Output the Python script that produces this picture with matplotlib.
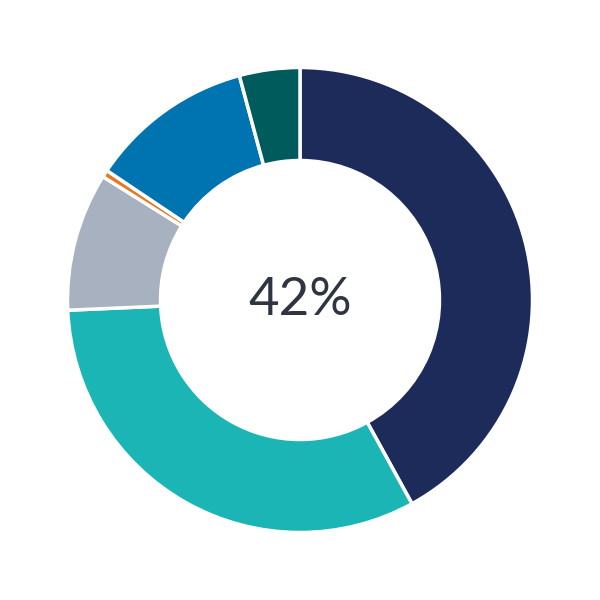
import matplotlib
matplotlib.use("Agg")
import matplotlib.pyplot as plt

# segment shares, clockwise from 12 o'clock
labels = ["Navy", "Teal", "Gray", "Orange", "Blue", "Dark green"]
values = [42.0, 32.3, 9.6, 0.5, 11.4, 4.2]
colors = ["#1c2b5a", "#1bb5b6", "#a8b1c0", "#e87722", "#0073b1", "#005b5c"]
center_label = "42%"

fig = plt.figure(figsize=(6, 6), dpi=100)
ax = fig.add_axes([0, 0, 1, 1])
ax.set_aspect("equal")

ax.pie(values, colors=colors, startangle=90, counterclock=False,
       radius=0.775,
       wedgeprops=dict(width=0.31, edgecolor="white", linewidth=2.5))

ax.text(0, 0.012, center_label, ha="center", va="center_baseline", fontsize=38,
        color="#2e3441", family=["Lato", "DejaVu Sans"])

ax.set_xlim(-1, 1)
ax.set_ylim(-1, 1)
ax.axis("off")

fig.savefig("out.png", dpi=100, facecolor="white")
